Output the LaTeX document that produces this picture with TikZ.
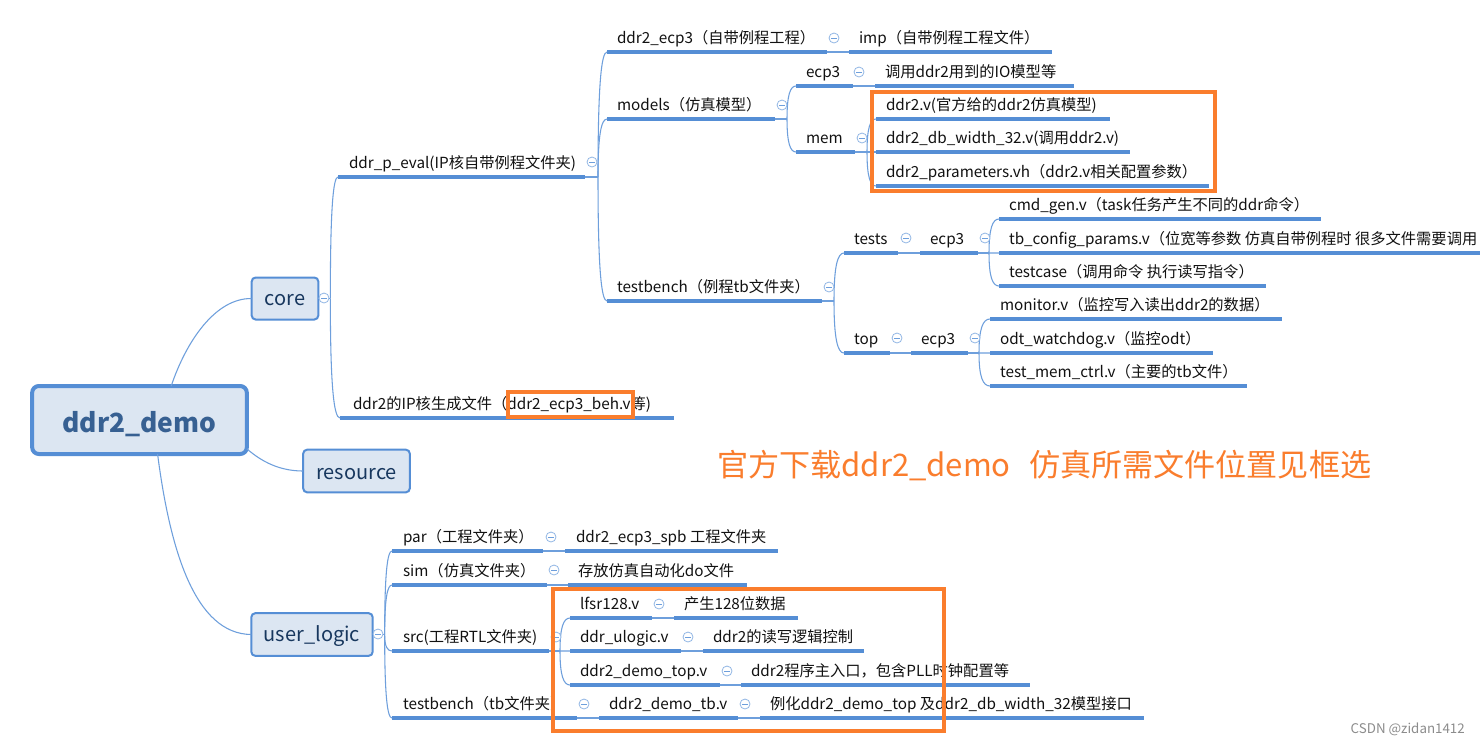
\documentclass[tikz,border=0pt]{standalone}
\usepackage{fontspec}
\setmainfont{Noto Sans CJK SC}
\usetikzlibrary{calc}
\definecolor{lineblue}{HTML}{558ED5}
\definecolor{connblue}{HTML}{6E9FDC}
\definecolor{boxfill}{HTML}{DCE6F2}
\definecolor{boxtext}{HTML}{17375E}
\definecolor{roottext}{HTML}{376092}
\definecolor{orangeb}{HTML}{FA7D2D}
\definecolor{bodytext}{HTML}{111111}
\tikzset{
  x=0.75pt,y=-0.75pt,
  topic/.style={inner sep=0pt,outer sep=0pt,anchor=south west,text=bodytext,font=\fontsize{11.45pt}{13pt}\selectfont,text height=9pt,text depth=6.2pt},
  uline/.style={draw=lineblue,line width=2.4pt},
  conn/.style={draw=connblue,line width=0.8pt},
  branchbox/.style={draw=lineblue,line width=1.5pt,fill=boxfill,rounded corners=3pt,text=boxtext,font=\fontsize{15pt}{18pt}\selectfont,inner sep=0pt,outer sep=0pt,text height=12pt,text depth=0.8pt},
  rootbox/.style={draw=lineblue,line width=3pt,fill=boxfill,rounded corners=5pt,text=roottext,font=\bfseries\fontsize{19.8pt}{25pt}\selectfont,inner sep=0pt,outer sep=0pt,text height=20pt,text depth=2pt},
  cir/.style={circle,draw=connblue!75,line width=0.6pt,fill=white,minimum size=7.5pt,inner sep=0pt,
    path picture={\draw[connblue,line width=0.6pt] ($(path picture bounding box.center)+(-3,0)$) -- ++(6,0);}},
  orangebox/.style={draw=orangeb,line width=2.5pt}
}
% name, x0, x1, y of underline, text x, text
\newcommand\tp[6]{%
  \pgfmathsetlengthmacro\tpw{(#3-#2)*0.75pt}%
  \pgfmathsetlengthmacro\tpo{(#5-#2)*0.75pt}%
  \node[topic] (#1) at (#2,#4) {\hbox to \tpw{\hskip\tpo #6\hss}};
  \draw[uline] (#1.south west) -- (#1.south east);
}
% junction: name, dx, start anchor
\newcommand\jn[3]{%
  \coordinate (#1) at ($(#3)+(#2,0)$);
  \draw[conn] (#3) -- (#1);
}
\newcommand\kid[2]{%
  \draw[conn] (#1) .. controls ($(#1)!0.72!(#1 |- #2.south west)$) and ($(#2.south west)!0.65!(#1 |- #2.south west)$) .. (#2.south west);
}
\newcommand\link[2]{\draw[conn] (#1.south east) -- (#2.south west);}
\begin{document}
\begin{tikzpicture}
\useasboundingbox (0,0) rectangle (1480,744);
\fill[white] (0,0) rectangle (1480,744);
% main boxes
\node[rootbox,minimum width=161pt,minimum height=51pt] (root) at (139.5,420) {ddr2\_demo};
\node[branchbox,minimum width=50pt,minimum height=31.5pt] (core) at (285,298.5) {core};
\node[branchbox,minimum width=80pt,minimum height=32pt,text height=12.8pt] (res) at (356.5,471) {resource};
\node[branchbox,minimum width=91pt,minimum height=32pt] (ulog) at (312,634.5) {user\_logic};
\draw[conn] (root.47) .. controls (186,342) and (215,298) .. (core.west);
\draw[conn] (root.-15) .. controls (262,462) and (280,471) .. (res.west);
\draw[conn] (root.-62) .. controls (170,550) and (195,634) .. (ulog.west);
% core subtree
\tp{pe}{338}{585}{177}{349}{ddr\_p\_eval(IP核自带例程文件夹)}
\tp{ip}{340}{674}{418}{353}{ddr2的IP核生成文件（ddr2\_ecp3\_beh.v等)}
\tp{ec}{607}{827}{52}{617}{ddr2\_ecp3（自带例程工程）}
\tp{im}{849}{1052}{52}{859}{imp（自带例程工程文件）}
\tp{mo}{607}{775}{119}{617}{models（仿真模型）}
\tp{tb}{607}{822}{301}{617}{testbench（例程tb文件夹）}
\tp{me}{796}{853}{86}{806}{ecp3}
\tp{io}{875}{1074}{86}{885}{调用ddr2用到的IO模型等}
\tp{mm}{796}{855}{152}{806}{mem}
\tp{dv}{876}{1110}{119}{886}{ddr2.v(官方给的ddr2仿真模型)}
\tp{dw}{876}{1130}{152}{886}{ddr2\_db\_width\_32.v(调用ddr2.v)}
\tp{dp}{876}{1209}{186}{886}{ddr2\_parameters.vh（ddr2.v相关配置参数）}
\tp{ts}{844}{898}{253}{854}{tests}
\tp{te}{920}{978}{253}{930}{ecp3}
\tp{cg}{999}{1321}{219}{1009}{cmd\_gen.v（task任务产生不同的ddr命令）}
\tp{tc}{999}{1480}{253}{1009}{tb\_config\_params.v（位宽等参数 仿真自带例程时 很多文件需要调用}
\tp{tt}{999}{1266}{286}{1009}{testcase（调用命令 执行读写指令）}
\tp{tp}{844}{890}{353}{854}{top}
\tp{pe3}{911}{968}{353}{921}{ecp3}
\tp{mn}{990}{1282}{319}{1000}{monitor.v（监控写入读出ddr2的数据）}
\tp{od}{990}{1213}{353}{1000}{odt\_watchdog.v（监控odt）}
\tp{tm}{990}{1247}{386}{1000}{test\_mem\_ctrl.v（主要的tb文件）}
% user logic subtree
\tp{pa}{392}{543}{551}{403}{par（工程文件夹）}
\tp{sp}{565}{778}{551}{576}{ddr2\_ecp3\_spb 工程文件夹}
\tp{si}{392}{547}{585}{403}{sim（仿真文件夹）}
\tp{dq}{568}{747}{585}{578}{存放仿真自动化do文件}
\tp{sr}{392}{549}{651}{403}{src(工程RTL文件夹)}
\tp{lf}{570}{652}{618}{580}{lfsr128.v}
\tp{lg}{674}{798}{618}{684}{产生128位数据}
\tp{du}{570}{681}{651}{580}{ddr\_ulogic.v}
\tp{dc}{703}{864}{651}{713}{ddr2的读写逻辑控制}
\tp{dt}{570}{720}{685}{580}{ddr2\_demo\_top.v}
\tp{dm}{741}{1030}{685}{751}{ddr2程序主入口，包含PLL时钟配置等}
\tp{ub}{392}{577}{718}{403}{testbench（tb文件夹）}
\tp{ut}{599}{738}{718}{609}{ddr2\_demo\_tb.v}
\tp{ux}{760}{1144}{718}{770}{例化ddr2\_demo\_top 及ddr2\_db\_width\_32模型接口}
% connectors
\jn{jc}{12}{core.east}
\kid{jc}{pe}\kid{jc}{ip}
\jn{jp}{13}{pe.south east}
\kid{jp}{ec}\kid{jp}{mo}\kid{jp}{tb}
\link{ec}{im}
\jn{jm}{12}{mo.south east}
\kid{jm}{me}\kid{jm}{mm}
\link{me}{io}
\jn{jd}{12}{mm.south east}
\kid{jd}{dv}\kid{jd}{dw}\kid{jd}{dp}
\jn{jt}{12}{tb.south east}
\kid{jt}{ts}\kid{jt}{tp}
\link{ts}{te}\link{tp}{pe3}
\jn{je}{11}{te.south east}
\kid{je}{cg}\kid{je}{tc}\kid{je}{tt}
\jn{jf}{11}{pe3.south east}
\kid{jf}{mn}\kid{jf}{od}\kid{jf}{tm}
\jn{ju}{12}{ulog.east}
\kid{ju}{pa}\kid{ju}{si}\kid{ju}{sr}\kid{ju}{ub}
\link{pa}{sp}\link{si}{dq}
\jn{js}{11}{sr.south east}
\kid{js}{lf}\kid{js}{du}\kid{js}{dt}
\link{lf}{lg}\link{du}{dc}\link{dt}{dm}
\link{ub}{ut}\link{ut}{ux}
% collapse markers
\node[cir] (c1) at (324,298) {};
\node[cir] (c2) at (592,162) {};
\node[cir] (c3) at (834,38) {};
\node[cir] (c4) at (782,105) {};
\node[cir] (c5) at (859,72) {};
\node[cir] (c6) at (862,138) {};
\node[cir] (c7) at (829,287) {};
\node[cir] (c8) at (906,238) {};
\node[cir] (c9) at (985,238) {};
\node[cir] (c10) at (897,338) {};
\node[cir] (c11) at (975,338) {};
\node[cir] (c12) at (378,634) {};
\node[cir] (c13) at (551,537) {};
\node[cir] (c14) at (554,570) {};
\node[cir] (c15) at (556,637) {};
\node[cir] (c16) at (659,604) {};
\node[cir] (c17) at (688,637) {};
\node[cir] (c18) at (727,671) {};
\node[cir] (c19) at (584,704) {};
\node[cir] (c20) at (745,704) {};
% highlights
\draw[orangebox] (872,92) rectangle (1215,191);
\draw[orangebox] (508,392) rectangle (633,417);
\draw[orangebox] (553,589) rectangle (944,731);
\node[anchor=west,inner sep=0pt,text=orangeb,font=\fontsize{23.3pt}{28pt}\selectfont] (note) at (717,466) {官方下载ddr2\_demo\hspace{14pt}仿真所需文件位置见框选};
\node[anchor=east,inner sep=0pt,text=black!45,font=\fontsize{10pt}{12pt}\selectfont] (mark) at (1465,729) {CSDN @zidan1412};
\end{tikzpicture}
\end{document}
